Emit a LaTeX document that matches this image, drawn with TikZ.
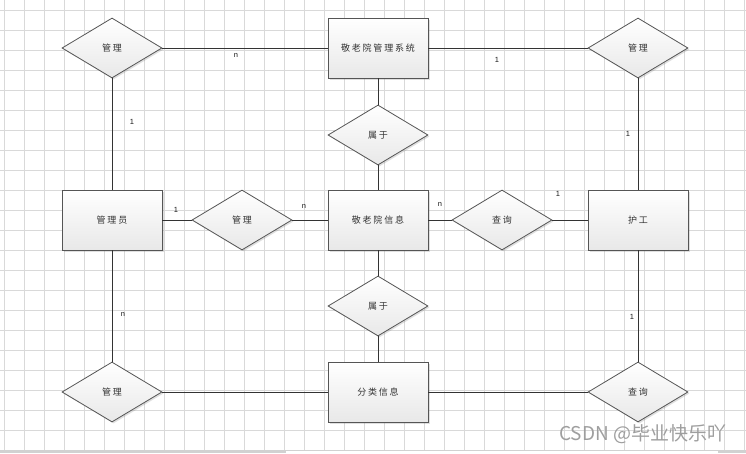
\documentclass[tikz,border=0pt]{standalone}
\usepackage{fontspec}
\setmainfont{Liberation Sans}
\newfontfamily\cjk{Noto Sans CJK SC}[LetterSpace=20]
\newfontfamily\cjkplain{Noto Sans CJK SC}
\usetikzlibrary{shapes.geometric,shadows}
\definecolor{gridc}{HTML}{D9D9D9}
\definecolor{linec}{HTML}{333333}
\definecolor{borderc}{HTML}{555555}
\tikzset{
  shp/.style={draw=borderc, line width=0.8pt, top color=white, bottom color=black!9,
    drop shadow={opacity=0.25, shadow xshift=1.5pt, shadow yshift=-1.5pt},
    inner sep=0pt, font=\cjk\fontsize{9}{11}\selectfont, text=black!80},
  entity/.style={shp, rectangle, minimum width=100pt, minimum height=60pt},
  rel/.style={shp, diamond, aspect=1.667, minimum width=100pt, minimum height=60pt},
  conn/.style={draw=linec, line width=0.9pt},
  card/.style={font=\fontsize{7.5}{8}\selectfont, text=black!90, inner sep=0pt}
}
\begin{document}
\begin{tikzpicture}[x=1pt,y=-1pt]
\useasboundingbox (0,0) rectangle (746,453);
\fill[white] (0,0) rectangle (746,453);
% grid
\foreach \gx in {4,24,...,744} \draw[gridc, line width=0.8pt] (\gx,0) -- (\gx,450);
\foreach \gy in {10,30,...,450} \draw[gridc, line width=0.8pt] (0,\gy) -- (746,\gy);
% bottom bar
\fill[black!18] (0,450) rectangle (746,453);
\fill[white] (286,451) rectangle (718,453);

% nodes
\node[rel]    (r1) at (112,48)  {管理};
\node[entity] (sys) at (378,48) {敬老院管理系统};
\node[rel]    (r2) at (638,48)  {管理};
\node[rel]    (s1) at (378,135) {属于};
\node[entity] (adm) at (112,220) {管理员};
\node[rel]    (r3) at (242,220) {管理};
\node[entity] (info) at (378,220) {敬老院信息};
\node[rel]    (q1) at (502,220) {查询};
\node[entity] (nur) at (638,220) {护工};
\node[rel]    (s2) at (378,306) {属于};
\node[rel]    (r4) at (112,392) {管理};
\node[entity] (cat) at (378,392) {分类信息};
\node[rel]    (q2) at (638,392) {查询};

% connectors
\draw[conn] (r1.east) -- (sys.west);
\draw[conn] (sys.east) -- (r2.west);
\draw[conn] (r1.south) -- (adm.north);
\draw[conn] (r2.south) -- (nur.north);
\draw[conn] (sys.south) -- (s1.north);
\draw[conn] (s1.south) -- (info.north);
\draw[conn] (adm.east) -- (r3.west);
\draw[conn] (r3.east) -- (info.west);
\draw[conn] (info.east) -- (q1.west);
\draw[conn] (q1.east) -- (nur.west);
\draw[conn] (info.south) -- (s2.north);
\draw[conn] (s2.south) -- (cat.north);
\draw[conn] (adm.south) -- (r4.north);
\draw[conn] (nur.south) -- (q2.north);
\draw[conn] (r4.east) -- (cat.west);
\draw[conn] (cat.east) -- (q2.west);

% cardinalities
\node[card] (c1) at (236,55) {n};
\node[card] (c2) at (497,60) {1};
\node[card] (c3) at (132,122) {1};
\node[card] (c4) at (628,134) {1};
\node[card] (c5) at (176,210) {1};
\node[card] (c6) at (304,206) {n};
\node[card] (c7) at (440,204) {n};
\node[card] (c8) at (558,194) {1};
\node[card] (c9) at (123,314) {n};
\node[card] (c10) at (632,317) {1};

% watermark
\node[font=\cjkplain\fontsize{19}{21}\selectfont, text=black!38, anchor=west, inner sep=0pt] (wm) at (559,434) {CSDN @毕业快乐吖};
\end{tikzpicture}
\end{document}
